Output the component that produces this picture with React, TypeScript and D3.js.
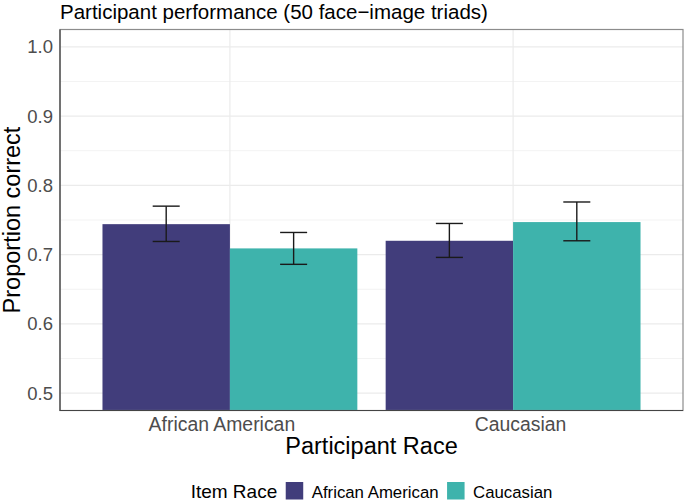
import React, { useEffect, useRef } from "react";
import * as d3 from "d3";

// Chart values
const participantRace = ["African American", "Caucasian"];
const itemRace = ["African American", "Caucasian"];
const itemColors = ["#413D7B", "#3EB3AC"];
const meanAfricanAmericanItems = [0.744, 0.72];
const meanCaucasianItems = [0.709, 0.747];
const lowerAfricanAmericanItems = [0.719, 0.696];
const upperAfricanAmericanItems = [0.77, 0.745];
const lowerCaucasianItems = [0.686, 0.72];
const upperCaucasianItems = [0.732, 0.776];
const yTicks = [0.5, 0.6, 0.7, 0.8, 0.9, 1.0];
const yMinorTicks = [0.55, 0.65, 0.75, 0.85, 0.95];

const chartTitle = "Participant performance (50 face\u2212image triads)";
const xTitle = "Participant Race";
const yTitle = "Proportion correct";
const legendTitle = "Item Race";

const FONT = "'Liberation Sans', Arial, sans-serif";
// the original's category labels sit a little off their band centres
const xLabelNudge = [-8, 7.5];

const App: React.FC = () => {
  const ref = useRef<SVGSVGElement | null>(null);

  useEffect(() => {
    if (!ref.current) return;
    const width = 685;
    const height = 502;
    const panel = { left: 60, right: 683, top: 29.5, bottom: 410.5 };

    const svg = d3.select(ref.current);
    svg.selectAll("*").remove();
    svg.attr("width", width).attr("height", height);

    const rows = participantRace.map((p, i) => ({
      participant: p,
      bars: [
        { item: itemRace[0], mean: meanAfricanAmericanItems[i], lo: lowerAfricanAmericanItems[i], hi: upperAfricanAmericanItems[i] },
        { item: itemRace[1], mean: meanCaucasianItems[i], lo: lowerCaucasianItems[i], hi: upperCaucasianItems[i] },
      ],
    }));

    const x = d3.scaleBand<string>()
      .domain(participantRace)
      .range([panel.left, panel.right])
      .paddingInner(0.1)
      .paddingOuter(0.15);
    const xInner = d3.scaleBand<string>()
      .domain(itemRace)
      .range([0, x.bandwidth()])
      .padding(0);
    const y = d3.scaleLinear().domain([0.475, 1.025]).range([panel.bottom, panel.top]);
    const color = d3.scaleOrdinal<string, string>().domain(itemRace).range(itemColors);

    // Gridlines
    const grid = svg.append("g");
    yMinorTicks.forEach(t => {
      grid.append("line")
        .attr("x1", panel.left).attr("x2", panel.right)
        .attr("y1", y(t)).attr("y2", y(t))
        .attr("stroke", "#F3F3F3").attr("stroke-width", 1);
    });
    yTicks.forEach(t => {
      grid.append("line")
        .attr("x1", panel.left).attr("x2", panel.right)
        .attr("y1", y(t)).attr("y2", y(t))
        .attr("stroke", "#EBEBEB").attr("stroke-width", 1.2);
    });
    participantRace.forEach(p => {
      const cx = (x(p) as number) + x.bandwidth() / 2;
      grid.append("line")
        .attr("x1", cx).attr("x2", cx)
        .attr("y1", panel.top).attr("y2", panel.bottom)
        .attr("stroke", "#EBEBEB").attr("stroke-width", 1.2);
    });

    // Bars and error bars
    rows.forEach(row => {
      const g = svg.append("g").attr("transform", `translate(${x(row.participant)},0)`);
      row.bars.forEach(b => {
        const bx = xInner(b.item) as number;
        g.append("rect")
          .attr("x", bx)
          .attr("y", y(b.mean))
          .attr("width", xInner.bandwidth())
          .attr("height", panel.bottom - y(b.mean))
          .attr("fill", color(b.item));
      });
      row.bars.forEach(b => {
        const cx = (xInner(b.item) as number) + xInner.bandwidth() / 2;
        const hw = xInner.bandwidth() * 0.106;
        const eg = g.append("g").attr("stroke", "#1A1A1A").attr("stroke-width", 1.4);
        eg.append("line").attr("x1", cx).attr("x2", cx).attr("y1", y(b.lo)).attr("y2", y(b.hi));
        eg.append("line").attr("x1", cx - hw).attr("x2", cx + hw).attr("y1", y(b.lo)).attr("y2", y(b.lo));
        eg.append("line").attr("x1", cx - hw).attr("x2", cx + hw).attr("y1", y(b.hi)).attr("y2", y(b.hi));
      });
    });

    // Panel border
    svg.append("rect")
      .attr("x", panel.left).attr("y", panel.top)
      .attr("width", panel.right - panel.left).attr("height", panel.bottom - panel.top)
      .attr("fill", "none").attr("stroke", "#8C8C8C").attr("stroke-width", 1.2);
    svg.append("path")
      .attr("d", `M${panel.left},${panel.top}V${panel.bottom}H${panel.right}`)
      .attr("fill", "none").attr("stroke", "#444").attr("stroke-width", 1.2);

    // Y tick labels
    yTicks.forEach(t => {
      svg.append("text")
        .attr("x", 53).attr("y", y(t))
        .attr("text-anchor", "end").attr("dominant-baseline", "central")
        .attr("font-family", FONT).attr("font-size", 18.5).attr("fill", "#4D4D4D")
        .text(d3.format(".1f")(t));
    });

    // X tick labels
    participantRace.forEach((p, i) => {
      svg.append("text")
        .attr("x", (x(p) as number) + x.bandwidth() / 2 + xLabelNudge[i]).attr("y", 430.5)
        .attr("text-anchor", "middle")
        .attr("font-family", FONT).attr("font-size", 19.4).attr("fill", "#4D4D4D")
        .text(p);
    });

    // Titles
    svg.append("text")
      .attr("x", panel.left).attr("y", 18.5)
      .attr("font-family", FONT).attr("font-size", 20.5).attr("fill", "#000")
      .text(chartTitle);
    svg.append("text")
      .attr("x", (panel.left + panel.right) / 2).attr("y", 453.5)
      .attr("text-anchor", "middle")
      .attr("font-family", FONT).attr("font-size", 23.5).attr("fill", "#000")
      .text(xTitle);
    svg.append("text")
      .attr("transform", `translate(19.5,${(panel.top + panel.bottom) / 2}) rotate(-90)`)
      .attr("text-anchor", "middle")
      .attr("font-family", FONT).attr("font-size", 23.5).attr("fill", "#000")
      .text(yTitle);

    // Legend, centred under the panel
    const legend = svg.append("g");
    const baseline = 497.5;
    const keySize = 17.5;
    const lt = legend.append("text")
      .attr("y", baseline)
      .attr("font-family", FONT).attr("font-size", 19).attr("fill", "#000")
      .text(legendTitle);
    let cursor = (lt.node() as SVGTextElement).getComputedTextLength() + 8.5;
    itemRace.forEach((item, i) => {
      legend.append("rect")
        .attr("x", cursor).attr("y", 482)
        .attr("width", keySize).attr("height", keySize)
        .attr("fill", color(item));
      cursor += keySize + 8.5;
      const txt = legend.append("text")
        .attr("x", cursor).attr("y", baseline)
        .attr("font-family", FONT).attr("font-size", 16.8).attr("fill", "#000")
        .text(item);
      cursor += (txt.node() as SVGTextElement).getComputedTextLength();
      if (i < itemRace.length - 1) cursor += 8.5;
    });
    legend.attr("transform", `translate(${(panel.left + panel.right) / 2 - cursor / 2},0)`);
  }, []);

  return (
    <div style={{ position: "absolute", left: 0, top: 0, background: "#fff" }}>
      <svg ref={ref} style={{ display: "block" }} />
    </div>
  );
};

export default App;
